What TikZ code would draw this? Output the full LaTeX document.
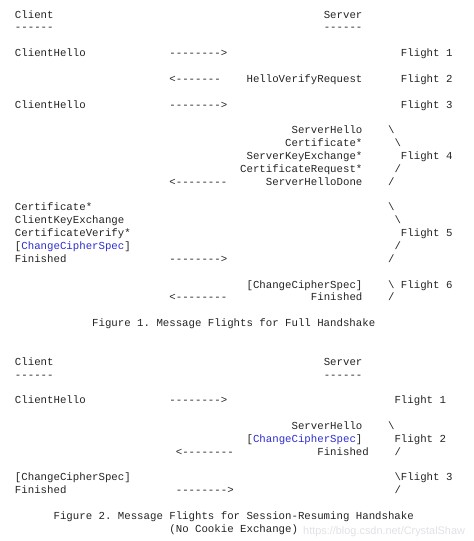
\documentclass[tikz,border=0pt]{standalone}
\usepackage{fontspec}
\setmonofont{Liberation Mono}
\newfontfamily\wmfont{Liberation Sans}
\definecolor{txtc}{RGB}{35,35,35}
\definecolor{ccs}{RGB}{45,45,205}
\definecolor{wmc}{RGB}{225,225,230}
\tikzset{
  tt/.style={anchor=base west, inner sep=0pt, outer sep=0pt, text=txtc,
    font=\ttfamily\fontsize{10.72}{12.86}\selectfont},
  wm/.style={anchor=base west, inner sep=0pt, text=wmc,
    font=\wmfont\fontsize{10.9}{13}\selectfont}
}
\newcommand\tln[4]{\node[tt] (#1) at ({-4.3+6.433*#2},{-(18+12.86*#3)}) {#4};}
\frenchspacing
\begin{document}
\begin{tikzpicture}[x=1pt,y=1pt]
\useasboundingbox (0,0) rectangle (474,-541);
% ---------- Figure 1 ----------
\tln{fa-client}{3}{0}{Client}
\tln{fa-server}{51}{0}{Server}
\tln{fa-cl-rule}{3}{1}{------}
\tln{fa-sv-rule}{51}{1}{------}
% flight 1
\tln{fa-ch1}{3}{3}{ClientHello}
\tln{fa-a1}{27}{3}{-------->}
\tln{fa-f1}{63}{3}{Flight 1}
% flight 2
\tln{fa-a2}{27}{5}{<-------}
\tln{fa-hvr}{39}{5}{HelloVerifyRequest}
\tln{fa-f2}{63}{5}{Flight 2}
% flight 3
\tln{fa-ch2}{3}{7}{ClientHello}
\tln{fa-a3}{27}{7}{-------->}
\tln{fa-f3}{63}{7}{Flight 3}
% flight 4
\tln{fa-sh}{46}{9}{ServerHello}
\tln{fa-b41}{61}{9}{\textbackslash}
\tln{fa-cert}{45}{10}{Certificate*}
\tln{fa-b42}{62}{10}{\textbackslash}
\tln{fa-ske}{39}{11}{ServerKeyExchange*}
\tln{fa-f4}{63}{11}{Flight 4}
\tln{fa-cr}{38}{12}{CertificateRequest*}
\tln{fa-s41}{62}{12}{/}
\tln{fa-a4}{27}{13}{<--------}
\tln{fa-shd}{42}{13}{ServerHelloDone}
\tln{fa-s42}{61}{13}{/}
% flight 5
\tln{fa-ccert}{3}{15}{Certificate*}
\tln{fa-b51}{61}{15}{\textbackslash}
\tln{fa-cke}{3}{16}{ClientKeyExchange}
\tln{fa-b52}{62}{16}{\textbackslash}
\tln{fa-cv}{3}{17}{CertificateVerify*}
\tln{fa-f5}{63}{17}{Flight 5}
\tln{fa-ccs1}{3}{18}{[\textcolor{ccs}{ChangeCipherSpec}]}
\tln{fa-s51}{62}{18}{/}
\tln{fa-fin1}{3}{19}{Finished}
\tln{fa-a5}{27}{19}{-------->}
\tln{fa-s52}{61}{19}{/}
% flight 6
\tln{fa-ccs2}{39}{21}{[ChangeCipherSpec]}
\tln{fa-b61}{61}{21}{\textbackslash}
\tln{fa-f6}{63}{21}{Flight 6}
\tln{fa-a6}{27}{22}{<--------}
\tln{fa-fin2}{49}{22}{Finished}
\tln{fa-s61}{61}{22}{/}
\tln{fa-cap}{15}{24}{Figure 1. Message Flights for Full Handshake}
% ---------- Figure 2 ----------
\tln{fb-client}{3}{27}{Client}
\tln{fb-server}{51}{27}{Server}
\tln{fb-cl-rule}{3}{28}{------}
\tln{fb-sv-rule}{51}{28}{------}
\tln{fb-ch}{3}{30}{ClientHello}
\tln{fb-a1}{27}{30}{-------->}
\tln{fb-f1}{62}{30}{Flight 1}
\tln{fb-sh}{46}{32}{ServerHello}
\tln{fb-b21}{61}{32}{\textbackslash}
\tln{fb-ccs1}{39}{33}{[\textcolor{ccs}{ChangeCipherSpec}]}
\tln{fb-f2}{62}{33}{Flight 2}
\tln{fb-a2}{28}{34}{<--------}
\tln{fb-fin1}{50}{34}{Finished}
\tln{fb-s21}{62}{34}{/}
\tln{fb-ccs2}{3}{36}{[ChangeCipherSpec]}
\tln{fb-f3}{62}{36}{\textbackslash Flight 3}
\tln{fb-fin2}{3}{37}{Finished}
\tln{fb-a3}{28}{37}{-------->}
\tln{fb-s31}{62}{37}{/}
\tln{fb-cap1}{9}{39}{Figure 2. Message Flights for Session-Resuming Handshake}
\tln{fb-cap2}{27}{40}{(No Cookie Exchange)}
\node[wm] (wmark) at (303,-534) {https://blog.csdn.net/CrystalShaw};
\end{tikzpicture}
\end{document}
